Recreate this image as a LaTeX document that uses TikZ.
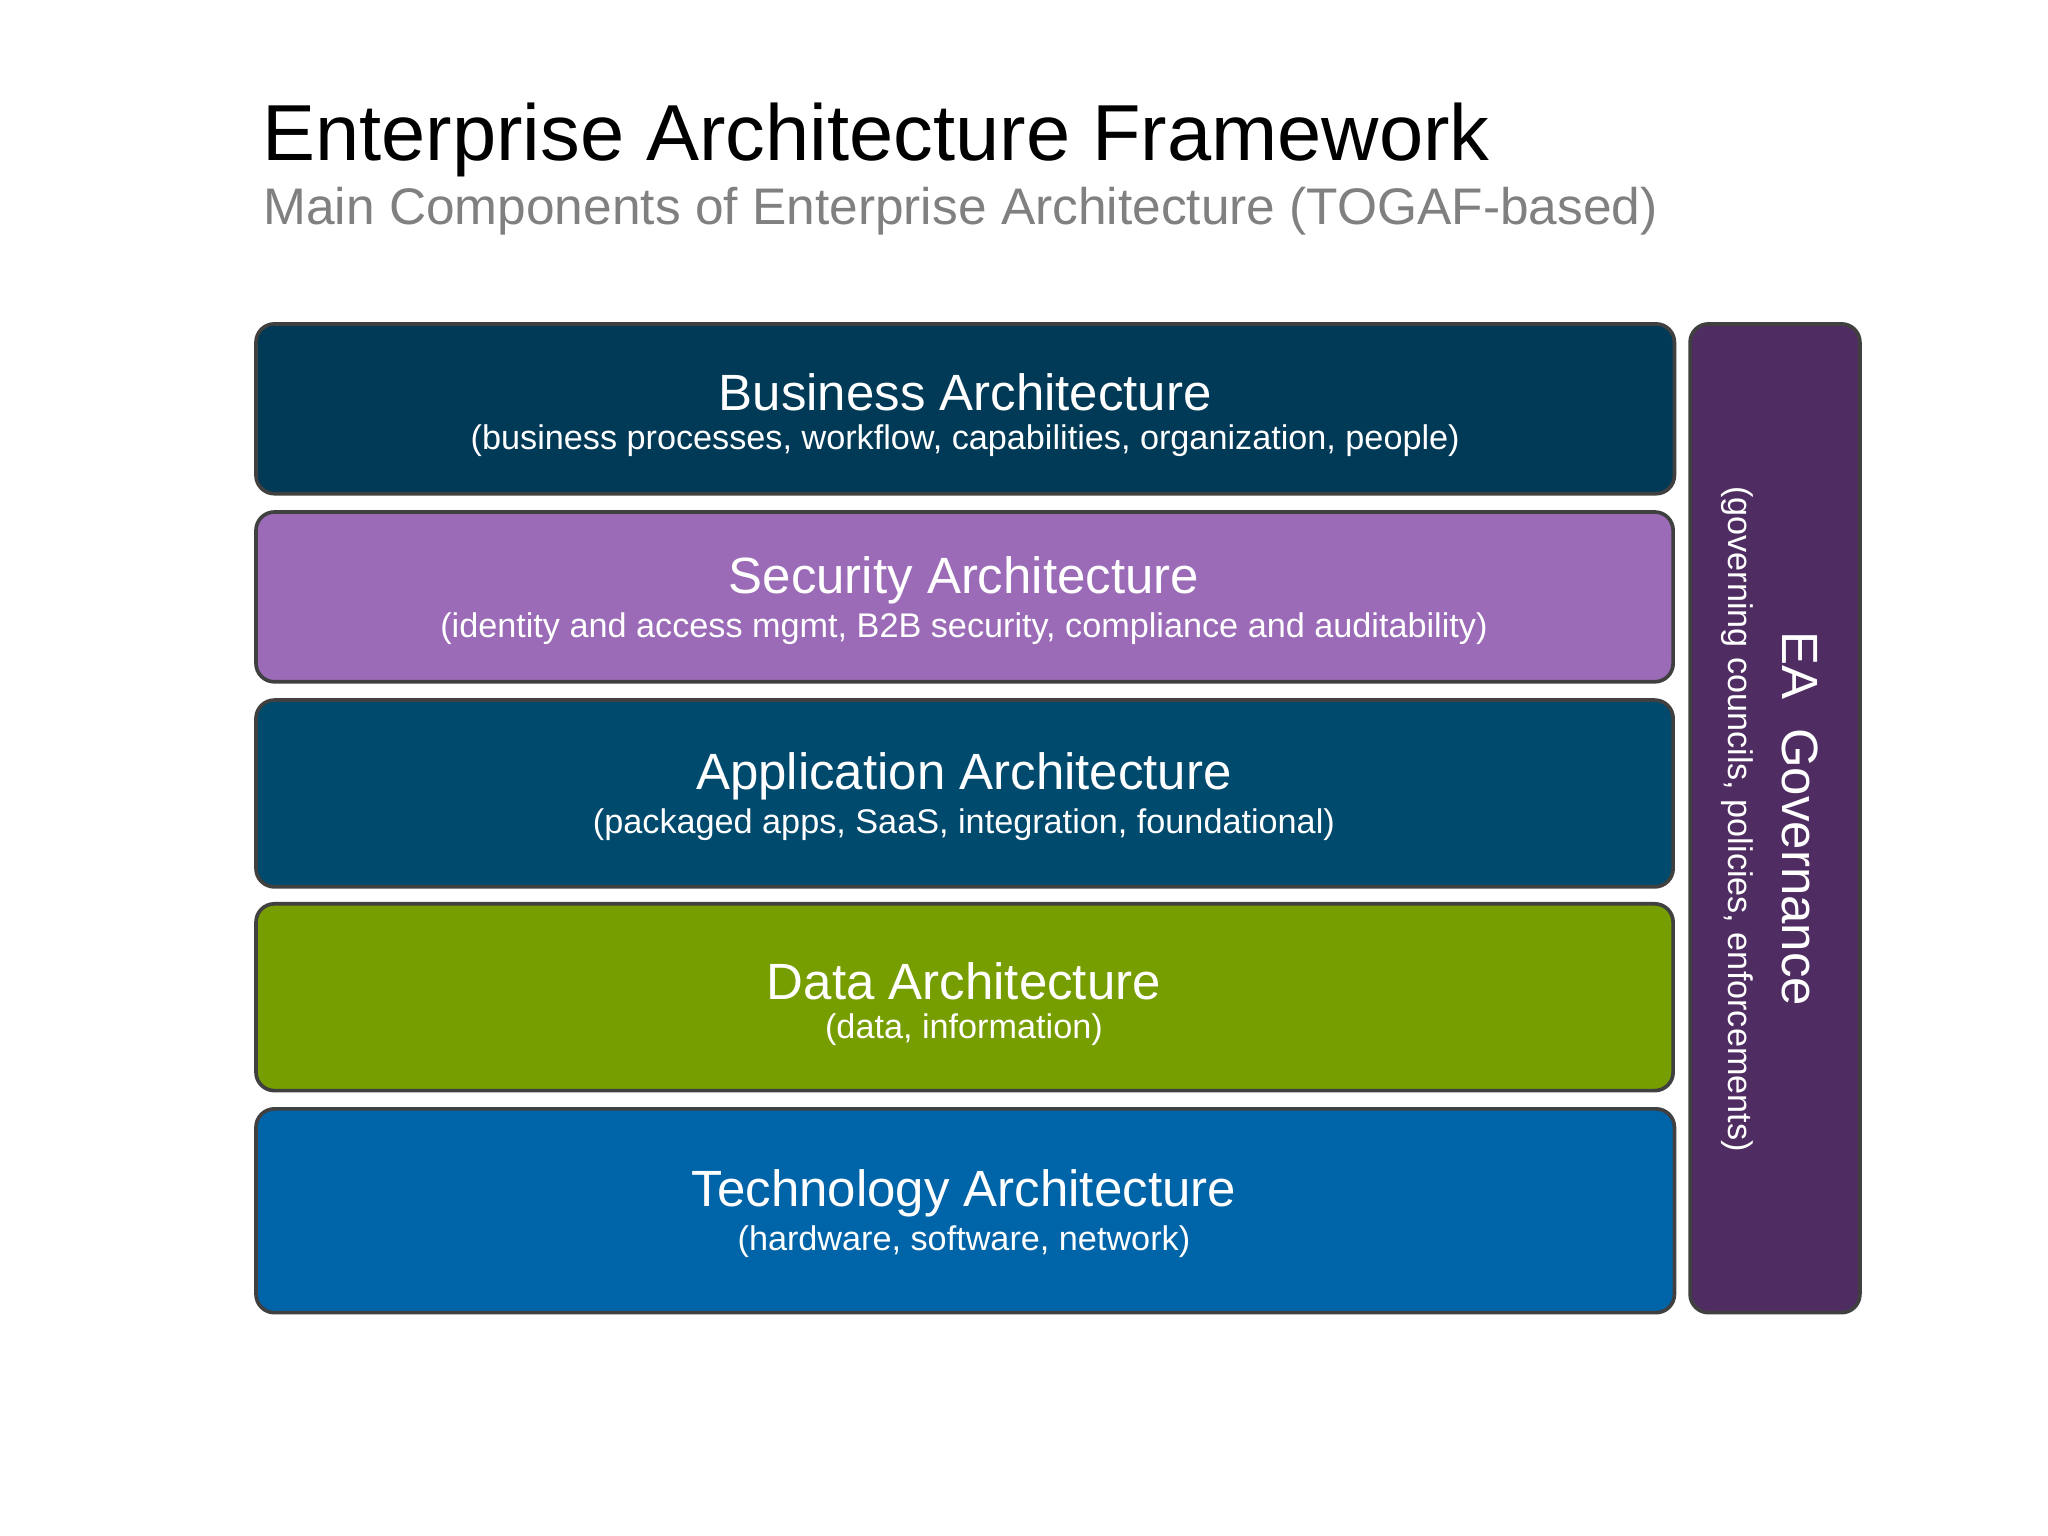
\documentclass[tikz,border=0pt]{standalone}
\usepackage{fontspec}
\setmainfont{Liberation Sans}
\usetikzlibrary{positioning}
\definecolor{bizblue}{HTML}{003A57}
\definecolor{secpurple}{HTML}{9B6BB7}
\definecolor{appblue}{HTML}{004A6E}
\definecolor{datagreen}{HTML}{779E00}
\definecolor{techblue}{HTML}{0064A8}
\definecolor{govpurple}{HTML}{4F2D62}
\tikzset{
    layer/.style={draw=black!75, line width=0.8pt, rounded corners=4pt, text=white, align=center, inner sep=0pt},
    head/.style={font=\fontsize{11.1}{13}\selectfont},
    sub/.style={font=\fontsize{7.45}{9}\selectfont}
}
\begin{document}
\begin{tikzpicture}[x=0.01cm, y=-0.01cm]
            \useasboundingbox (0,0) rectangle (1568,1176);
            \node[anchor=base west, inner sep=0pt, font=\fontsize{17.3}{20}\selectfont] (title) at (200,123) {Enterprise Architecture Framework};
            \node[anchor=base west, inner sep=0pt, font=\fontsize{11.2}{13}\selectfont, text=black!50] (subtitle) at (201,172) {Main Components of Enterprise Architecture (TOGAF-based)};

            \draw[layer, fill=bizblue] (196,248) rectangle (1282,378);
            \draw[layer, fill=secpurple] (196,392) rectangle (1281,522);
            \draw[layer, fill=appblue] (196,536) rectangle (1281,679);
            \draw[layer, fill=datagreen] (196,692) rectangle (1281,835);
            \draw[layer, fill=techblue] (196,849) rectangle (1282,1005);
            \draw[layer, fill=govpurple] (1294,248) rectangle (1424,1005);

            \node[head, text=white] (business) at (739,300) {Business Architecture};
            \node[sub, text=white] (businesssub) at (739,337) {(business processes, workflow, capabilities, organization, people)};
            \node[head, text=white] (security) at (738,444) {Security Architecture};
            \node[sub, text=white] (securitysub) at (738,481) {(identity and access mgmt, B2B security, compliance and auditability)};
            \node[head, text=white] (application) at (738,594) {Application Architecture};
            \node[sub, text=white] (applicationsub) at (738,631) {(packaged apps, SaaS, integration, foundational)};
            \node[head, text=white] (data) at (738,751) {Data Architecture};
            \node[sub, text=white] (datasub) at (738,788) {(data, information)};
            \node[head, text=white] (technology) at (738,914) {Technology Architecture};
            \node[sub, text=white] (technologysub) at (738,951) {(hardware, software, network)};

            \node[head, text=white, rotate=-90] (governance) at (1378,627) {EA\ \ Governance};
            \node[sub, text=white, rotate=-90] (governancesub) at (1330,627) {(governing councils, policies, enforcements)};
        \end{tikzpicture}
\end{document}
